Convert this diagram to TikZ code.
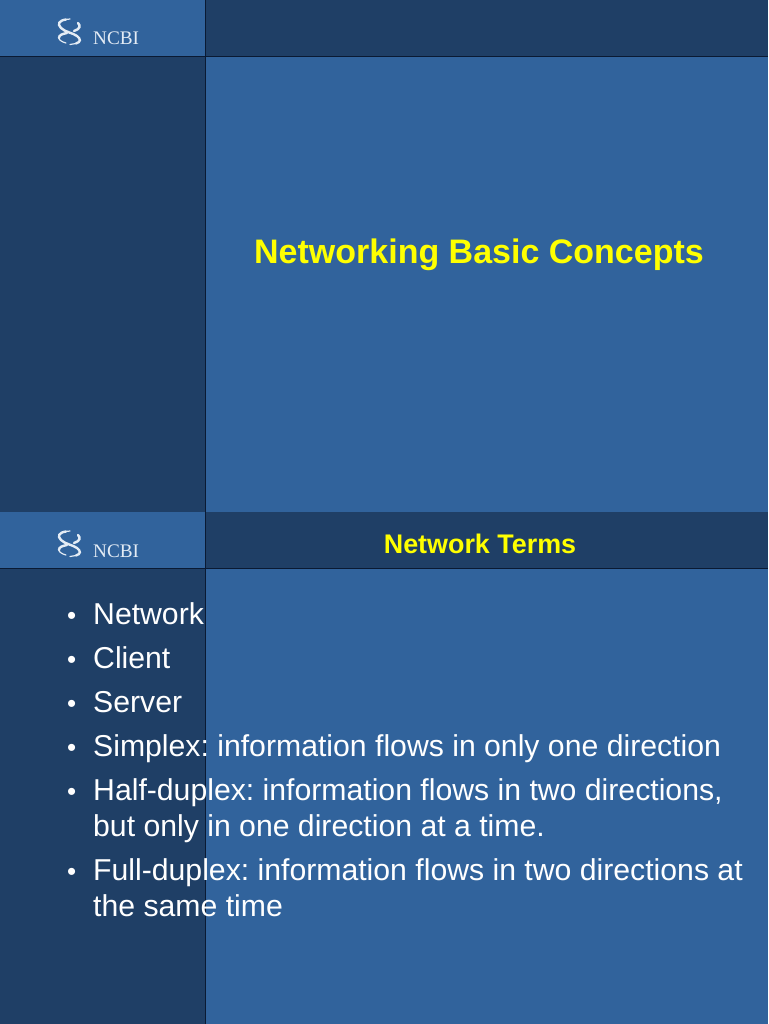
\documentclass[tikz,border=0pt]{standalone}
\usepackage{fontspec}
\setmainfont{Liberation Sans}
\newfontfamily\logofont{Liberation Serif}
\definecolor{panelblue}{HTML}{31639C}
\definecolor{paneldark}{HTML}{1F3F66}
\definecolor{rulecol}{HTML}{0A1A33}
\definecolor{titleyellow}{HTML}{FFFF00}
\definecolor{logowhite}{HTML}{E4ECF5}
\tikzset{
  x=1pt,y=-1pt,
  rulestyle/.style={draw=rulecol,line width=1pt},
  bullettext/.style={anchor=base west,inner sep=0pt,text=white,font=\fontsize{30.2}{36}\selectfont},
  bulletmark/.style={anchor=base west,inner sep=0pt,text=white,font=\fontsize{26}{30}\selectfont},
  logotext/.style={anchor=base west,inner sep=0pt,text=logowhite,font=\logofont\fontsize{19.2}{20}\selectfont},
  strand/.style={draw=logowhite,line width=2.4pt,line cap=round},
  thinstrand/.style={draw=logowhite,line width=1.2pt,line cap=round},
}
\newcommand{\logohelix}[1]{%
  \begin{scope}[yshift=#1]
    \draw[thinstrand] (70,19) -- (66,19.5);
    \draw[strand] (66,19.5) .. controls (59,20.5) and (57,24) .. (61,28) .. controls (65,32) and (73,33) .. (77,36) .. controls (81,39) and (81,42) .. (76,43.5);
    \draw[thinstrand] (76,43.5) -- (70,44.5);
    \draw[strand] (78,23) .. controls (81,26) and (80,29) .. (74,31);
    \draw[strand] (67,33) .. controls (62,34) and (59,35) .. (59,38);
    \draw[thinstrand] (59,38) .. controls (59,40) and (62,42) .. (66,43);
  \end{scope}}
\begin{document}
\frenchspacing
\begin{tikzpicture}
\useasboundingbox (0,0) rectangle (768,1024);
% slide one
\fill[panelblue] (0,0) rectangle (768,512);
\fill[paneldark] (205,0) rectangle (768,56);
\fill[paneldark] (0,56) rectangle (205,512);
\draw[rulestyle] (205,0) -- (205,512);
\draw[rulestyle] (0,56.5) -- (768,56.5);
% slide two
\fill[panelblue] (0,512) rectangle (768,1024);
\fill[paneldark] (205,512) rectangle (768,568);
\fill[paneldark] (0,568) rectangle (205,1024);
\draw[rulestyle] (205,512) -- (205,1024);
\draw[rulestyle] (0,568.5) -- (768,568.5);
% logos
\logohelix{0pt}
\logohelix{-512pt}
\node[logotext] (logoa) at (93,45) {NCBI};
\node[logotext] (logob) at (93,557) {NCBI};
% titles
\node[anchor=base,inner sep=0pt,text=titleyellow,font=\bfseries\fontsize{34}{36}\selectfont] (title) at (479,263) {Networking Basic Concepts};
\node[anchor=base,inner sep=0pt,text=titleyellow,font=\bfseries\fontsize{26.9}{28}\selectfont] (terms) at (480,553) {Network Terms};
% bullets
\node[bulletmark] (ba) at (67,624) {•};
\node[bullettext] (ta) at (93,624) {Network};
\node[bulletmark] (bb) at (67,668) {•};
\node[bullettext] (tb) at (93,668) {Client};
\node[bulletmark] (bc) at (67,712) {•};
\node[bullettext] (tc) at (93,712) {Server};
\node[bulletmark] (bd) at (67,756) {•};
\node[bullettext] (td) at (93,756) {Simplex: information flows in only one direction};
\node[bulletmark] (be) at (67,800) {•};
\node[bullettext] (te) at (93,800) {Half-duplex: information flows in two directions,};
\node[bullettext] (tf) at (93,836) {but only in one direction at a time.};
\node[bulletmark] (bg) at (67,880) {•};
\node[bullettext] (tg) at (93,880) {Full-duplex: information flows in two directions at};
\node[bullettext] (th) at (93,916) {the same time};
\end{tikzpicture}
\end{document}
